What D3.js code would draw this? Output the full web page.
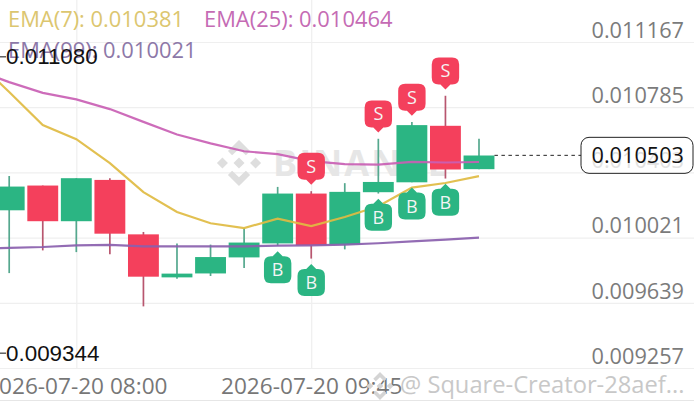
<!DOCTYPE html>
<html lang="en">
<head>
<meta charset="utf-8">
<title>EMA candles</title>
<script src="https://cdn.jsdelivr.net/npm/d3@7"></script>
<style>
  html, body { margin: 0; padding: 0; background: #fff; overflow: hidden; }
  text { font-family: "Open Sans", sans-serif; }
</style>
</head>
<body>
<script>
var w = 694, h = 409;

// 15 minute candles
var times = ["07:30","07:45","08:00","08:15","08:30","08:45","09:00","09:15","09:30","09:45","10:00","10:15","10:30","10:45","11:00"];
var opens  = [0.010181,0.010326,0.010117,0.010359,0.010040,0.009788,0.009811,0.009905,0.009987,0.010279,0.009980,0.010287,0.010345,0.010676,0.010422];
var closes = [0.010320,0.010117,0.010369,0.010044,0.009792,0.009810,0.009907,0.009992,0.010279,0.009976,0.010289,0.010347,0.010680,0.010420,0.010502];
var highs  = [0.010382,0.010326,0.010369,0.010369,0.010054,0.009986,0.009980,0.010077,0.010318,0.010293,0.010340,0.010600,0.010698,0.010852,0.010600];
var lows   = [0.009813,0.009946,0.009936,0.009923,0.009618,0.009780,0.009796,0.009843,0.009972,0.009898,0.009952,0.010279,0.010345,0.010367,0.010422];

// EMA series start one candle earlier, that point is off the left edge
var emaTimes = ["07:15"].concat(times);
var ema7  = [0.011061,0.010874,0.010680,0.010598,0.010457,0.010287,0.010171,0.010105,0.010077,0.010132,0.010089,0.010142,0.010205,0.010314,0.010341,0.010381];
var ema25 = [0.011003,0.010932,0.010869,0.010831,0.010774,0.010699,0.010625,0.010573,0.010527,0.010510,0.010469,0.010451,0.010449,0.010465,0.010461,0.010464];
var ema99 = [0.009956,0.009961,0.009966,0.009976,0.009978,0.009970,0.009970,0.009970,0.009970,0.009974,0.009976,0.009980,0.009988,0.009999,0.010009,0.010021];

var sellMarks = ["09:45","10:15","10:30","10:45"];
var buyMarks  = ["09:30","09:45","10:15","10:30","10:45"];

var yTicks = [0.011167,0.010785,0.010403,0.010021,0.009639,0.009257];
var xTicks = ["08:00","09:45"];
var lastPrice = 0.010503, maxPrice = 0.011080, minPrice = 0.009344;

var parseT = function(t){ return d3.timeParse("%Y-%m-%d %H:%M")("2026-07-20 " + t); };

var x = d3.scaleTime()
    .domain([parseT("07:30"), parseT("11:00")])
    .range([9.2, 479]);
var y = d3.scaleLinear()
    .domain([0.011167, 0.009257])
    .range([42, 368]);
var step = x(parseT("07:45")) - x(parseT("07:30"));
var bodyW = step * 0.92;

var green = "#2bb583", red = "#f4405c";

var svg = d3.select("body").append("svg")
    .attr("width", w).attr("height", h)
    .style("display", "block");

// horizontal grid + price labels
var yAxis = svg.append("g")
    .call(d3.axisRight(y).tickValues(yTicks).tickSize(w).tickFormat(d3.format(".6f")));
yAxis.select(".domain").remove();
yAxis.selectAll("line").attr("stroke", "#efefef").attr("stroke-width", 1.2);
yAxis.selectAll("text")
    .attr("x", 684).attr("dy", -4.8).attr("dominant-baseline", "auto")
    .attr("text-anchor", "end")
    .attr("font-size", "21.7px").attr("fill", "#7b7b7b")
    .style("font-family", '"Open Sans", sans-serif');

// vertical grid + time labels
var xAxis = svg.append("g")
    .call(d3.axisBottom(x).tickValues(xTicks.map(parseT)).tickSize(y(0.009257)).tickFormat(d3.timeFormat("%Y-%m-%d %H:%M")));
xAxis.select(".domain").remove();
xAxis.selectAll("line").attr("stroke", "#efefef").attr("stroke-width", 1.2);
xAxis.selectAll("text")
    .attr("y", 394).attr("dy", 0)
    .attr("text-anchor", "middle")
    .attr("font-size", "22.6px").attr("fill", "#777")
    .style("font-family", '"Open Sans", sans-serif');

// strip line under the time axis
svg.append("line").attr("x1", 0).attr("x2", w).attr("y1", 400.5).attr("y2", 400.5)
    .attr("stroke", "#e6e6e6").attr("stroke-width", 1.2);

// binance logo, four small diamonds and a ring
function logo(g, cx, cy, s, col) {
    var pts = [[0,-1],[1,0],[0,1],[-1,0]];
    var diamond = function(dx, dy, r) {
        return "M" + pts.map(function(p){ return [cx + (dx + p[0]*r)*s, cy + (dy + p[1]*r)*s]; }).join("L") + "Z";
    };
    g.append("path")
        .attr("d", diamond(0,0,0.24) + diamond(-0.72,0,0.24) + diamond(0.72,0,0.24))
        .attr("fill", col);
    // upper and lower chevrons
    var chev = function(dir) {
        var a = [[0,-1],[0.48,-0.52],[0.3,-0.34],[0,-0.62],[-0.3,-0.34],[-0.48,-0.52]];
        return "M" + a.map(function(p){ return [cx + p[0]*s, cy + dir*p[1]*s]; }).join("L") + "Z";
    };
    g.append("path").attr("d", chev(1) + chev(-1)).attr("fill", col);
}

var wm = svg.append("g");
logo(wm, 239, 163, 23, "#dedede");
wm.append("text").attr("x", 273).attr("y", 176)
    .attr("font-size", "36px").attr("font-weight", 700)
    .attr("letter-spacing", "2px").attr("fill", "#e6e6e6")
    .text("BINANCE");

// candles
var idx = d3.range(times.length);
var isUp = function(i){ return closes[i] >= opens[i]; };

svg.append("g").selectAll("line").data(idx).enter().append("line")
    .attr("x1", function(i){ return x(parseT(times[i])); })
    .attr("x2", function(i){ return x(parseT(times[i])); })
    .attr("y1", function(i){ return y(highs[i]); })
    .attr("y2", function(i){ return y(lows[i]); })
    .attr("stroke", function(i){ return isUp(i) ? "#55a88e" : "#b8566f"; })
    .attr("stroke-width", 1.7);

svg.append("g").selectAll("rect").data(idx).enter().append("rect")
    .attr("x", function(i){ return x(parseT(times[i])) - bodyW/2; })
    .attr("width", bodyW)
    .attr("y", function(i){ return y(Math.max(opens[i], closes[i])); })
    .attr("height", function(i){ return Math.abs(y(opens[i]) - y(closes[i])); })
    .attr("fill", function(i){ return isUp(i) ? green : red; });

// EMA lines
var line = d3.line()
    .x(function(d,i){ return x(parseT(emaTimes[i])); })
    .y(function(d){ return y(d); });

[[ema7, "#e0bb42"], [ema25, "#c95fb4"], [ema99, "#8a5fae"]].forEach(function(s){
    svg.append("path")
        .attr("d", line(s[0]))
        .attr("fill", "none")
        .attr("stroke", s[1])
        .attr("stroke-width", 2.2)
        .attr("stroke-opacity", 0.92);
});

// S / B pins. dir -1 = pin sits above the point, 1 = below
function pin(px, tipY, dir) {
    var hw = 13.7, body = 27, tip = 5, r = 7;
    var near = tipY + dir*tip, far = tipY + dir*(tip + body);
    var p = d3.path();
    p.moveTo(px, tipY);
    p.lineTo(px + 5, near);
    p.lineTo(px + hw - r, near);
    p.quadraticCurveTo(px + hw, near, px + hw, near + dir*r);
    p.lineTo(px + hw, far - dir*r);
    p.quadraticCurveTo(px + hw, far, px + hw - r, far);
    p.lineTo(px - hw + r, far);
    p.quadraticCurveTo(px - hw, far, px - hw, far - dir*r);
    p.lineTo(px - hw, near + dir*r);
    p.quadraticCurveTo(px - hw, near, px - hw + r, near);
    p.lineTo(px - 5, near);
    p.closePath();
    return p.toString();
}

var marks = svg.append("g");
function drawMark(t, kind) {
    var i = times.indexOf(t);
    var px = x(parseT(t));
    var dir = kind == "S" ? -1 : 1;
    var tipY = kind == "S" ? y(highs[i]) - 6.3 : y(lows[i]) + 5.3;
    marks.append("path").attr("d", pin(px, tipY, dir))
        .attr("fill", kind == "S" ? red : green);
    marks.append("text")
        .attr("x", px).attr("y", tipY + dir*18.5 + 6.5)
        .attr("text-anchor", "middle")
        .attr("font-size", "18px").attr("fill", "#f4f4f4")
        .text(kind);
}
buyMarks.forEach(function(t){ drawMark(t, "B"); });
sellMarks.forEach(function(t){ drawMark(t, "S"); });

// last price dash + box
svg.append("line")
    .attr("x1", x(parseT("11:00")) + bodyW/2).attr("x2", 581)
    .attr("y1", y(lastPrice)).attr("y2", y(lastPrice))
    .attr("stroke", "#222").attr("stroke-width", 1)
    .attr("stroke-dasharray", "3.5,3.5");
svg.append("rect")
    .attr("x", 581).attr("y", y(lastPrice) - 18)
    .attr("width", 112).attr("height", 36).attr("rx", 8)
    .attr("fill", "#fff").attr("stroke", "#222").attr("stroke-width", 1);
svg.append("text").attr("x", 684).attr("y", y(0.010403) - 4.8)
    .attr("text-anchor", "end").attr("font-size", "21.7px")
    .attr("fill", "#aaa").attr("opacity", 0.35)
    .text(d3.format(".6f")(0.010403));
svg.append("text").attr("x", 684).attr("y", y(lastPrice) + 7.5)
    .attr("text-anchor", "end").attr("font-size", "21.7px")
    .attr("fill", "#111")
    .text(d3.format(".6f")(lastPrice));

// legend
var legend = [
    ["EMA(7): " + d3.format(".6f")(ema7[ema7.length-1]), 8, 26.5, "#dcc66f"],
    ["EMA(25): " + d3.format(".6f")(ema25[ema25.length-1]), 204, 26.5, "#c56bb4"],
    ["EMA(99): " + d3.format(".6f")(ema99[ema99.length-1]), 8, 58, "#8d78a8"]
];
legend.forEach(function(l){
    svg.append("text").attr("x", l[1]).attr("y", l[2])
        .attr("font-size", "21.9px").attr("fill", l[3]).text(l[0]);
});

// max / min price on the visible range
[maxPrice, minPrice].forEach(function(p){
    svg.append("line").attr("x1", 0).attr("x2", 6)
        .attr("y1", y(p)).attr("y2", y(p)).attr("stroke", "#111").attr("stroke-width", 1);
    svg.append("text").attr("x", 6).attr("y", y(p) + 7.5)
        .attr("font-size", "22.4px").attr("fill", "#111")
        .style("font-family", '"Liberation Sans", sans-serif')
        .text(d3.format(".6f")(p));
});

// square watermark on top of the time axis
logo(svg.append("g"), 380, 386, 14, "#d4d4d4");
svg.append("text").attr("x", 400).attr("y", 392.5)
    .attr("font-size", "23.7px").attr("fill", "#c8c8c8")
    .text("@ Square-Creator-28aef...");
</script>
</body>
</html>
